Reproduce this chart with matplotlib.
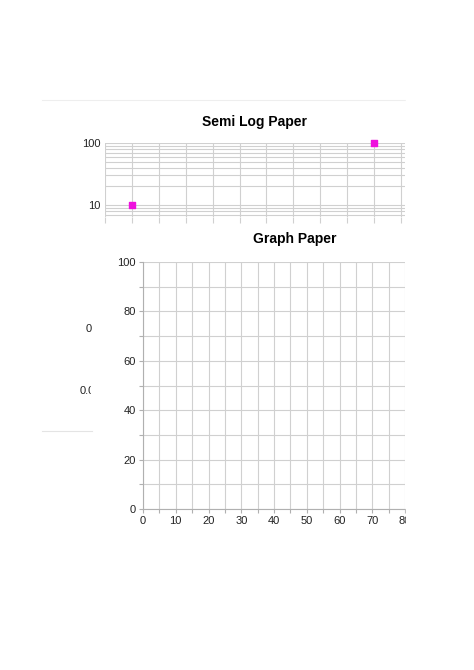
import matplotlib
matplotlib.use("Agg")
import matplotlib.pyplot as plt
import numpy as np
from matplotlib.patches import Rectangle
from matplotlib.lines import Line2D

plt.rcParams['font.family'] = ['Liberation Sans', 'DejaVu Sans']

semi_x = [10, 100]
semi_y = [10, 100]
graph_xticks = [0, 10, 20, 30, 40, 50, 60, 70, 80]
graph_yticks = [0, 20, 40, 60, 80, 100]

W, H = 474, 670
fig = plt.figure(figsize=(W/100, H/100), dpi=100)
grid_c = '#d0d0d0'
txt_c = '#222222'

def fx(px): return px / W
def fy(py): return 1 - py / H

# semi-log
ax1 = fig.add_axes([fx(105), fy(217), fx(405) - fx(105), fy(143) - fy(217)])
ax1.set_yscale('log')
ax1.set_ylim(6.4, 100)
ax1.set_xlim(0, 111.5)
ax1.scatter(semi_x, semi_y, marker='s', s=14, color='#ee11dd', zorder=3, clip_on=False)
ax1.set_xticks(np.arange(0, 111, 10))
ax1.set_xticklabels([])
ax1.set_yticks([10, 100])
ax1.set_yticklabels(['10', '100'])
ax1.grid(True, which='both', color=grid_c, lw=0.8)
for s in ax1.spines.values():
    s.set_visible(False)
ax1.tick_params(axis='x', length=4, color=grid_c)
ax1.tick_params(axis='y', which='both', length=0, labelsize=8, labelcolor=txt_c)
ax1.set_title('Semi Log Paper', fontsize=10, fontweight='bold', pad=12)

# graph paper
ax2 = fig.add_axes([fx(143), fy(509), fx(405) - fx(143), fy(262) - fy(509)])
ax2.set_xlim(0, 80)
ax2.set_ylim(0, 100)
ax2.set_xticks(np.arange(0, 81, 5), minor=False)
ax2.set_xticklabels([str(v) if v % 10 == 0 else '' for v in np.arange(0, 81, 5)])
ax2.set_yticks(np.arange(0, 101, 10))
ax2.set_yticklabels([str(v) if v % 20 == 0 else '' for v in np.arange(0, 101, 10)])
ax2.grid(True, color=grid_c, lw=0.8)
for k, s in ax2.spines.items():
    s.set_visible(k in ('left', 'bottom'))
    s.set_color('#b0b0b0')
ax2.tick_params(length=3, color='#b0b0b0', labelsize=8, labelcolor=txt_c, pad=2)
ax2.set_title('Graph Paper', fontsize=10, fontweight='bold', pad=14, x=0.58)

# stray elements of underlying sheet
fig.add_artist(Line2D([fx(42), fx(405)], [fy(100), fy(100)], color='#eeeeee', lw=0.8))
fig.add_artist(Line2D([fx(42), fx(92)], [fy(431), fy(431)], color='#e4e4e4', lw=0.8))
fig.text(fx(86), fy(329), '0', fontsize=8, color=txt_c, va='center')
fig.text(fx(80), fy(391), '0.0', fontsize=8, color=txt_c, va='center')
fig.add_artist(Rectangle((fx(91), fy(400)), fx(100) - fx(91), fy(380) - fy(400), color='white', zorder=5))
fig.add_artist(Rectangle((fx(406), 0), 1 - fx(406), 1, color='white', zorder=10))

fig.savefig('out.png', dpi=100)
